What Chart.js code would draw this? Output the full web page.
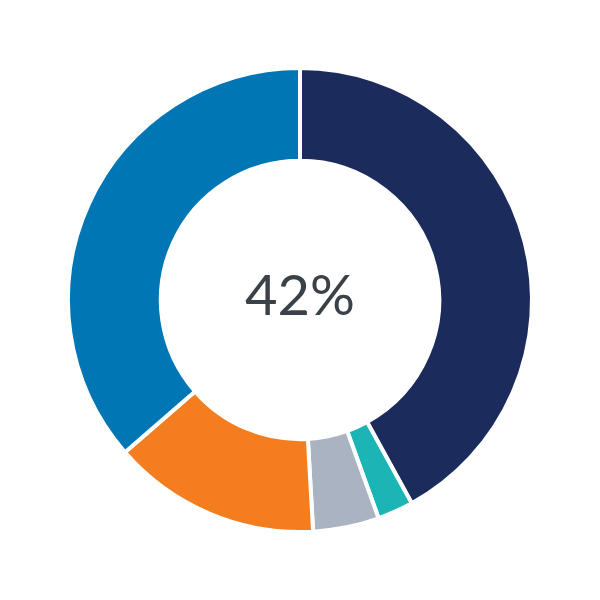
<!DOCTYPE html>
<html>
<head>
<meta charset="utf-8">
<script src="https://cdn.jsdelivr.net/npm/chart.js@4"></script>
<style>
  html, body { margin: 0; padding: 0; background: #fff; }
  .wrap { width: 600px; height: 600px; }
</style>
</head>
<body>
<div class="wrap"><canvas id="myChart" width="600" height="600"></canvas></div>
<script>
// data
const labels = ['Navy', 'Teal', 'Gray', 'Orange', 'Blue'];
const values = [42, 2.5, 4.6, 14.5, 36.4];
const colors = ['#1b2b5b', '#1bb5b5', '#a9b3c2', '#f47d20', '#0076b4'];
const centerLabel = '42%';

// text in the hole
const centerText = {
  id: 'centerText',
  afterDraw(chart) {
    const meta = chart.getDatasetMeta(0).data[0];
    const c = chart.ctx;
    c.save();
    c.font = '400 56px Lato, sans-serif';
    c.fillStyle = '#3a4149';
    c.textAlign = 'center';
    c.textBaseline = 'middle';
    c.fillText(centerLabel, meta.x, meta.y - 3);
    c.restore();
  }
};

var ctx = document.getElementById('myChart').getContext('2d');
var myChart = new Chart(ctx, {
  type: 'doughnut',
  data: {
    labels: labels,
    datasets: [{
      data: values,
      backgroundColor: colors,
      borderColor: '#ffffff',
      borderWidth: 4
    }]
  },
  options: {
    responsive: false,
    animation: false,
    cutout: '60%',
    layout: { padding: 66 },
    plugins: {
      legend: { display: false },
      tooltip: { enabled: false }
    }
  },
  plugins: [centerText]
});
</script>
</body>
</html>
